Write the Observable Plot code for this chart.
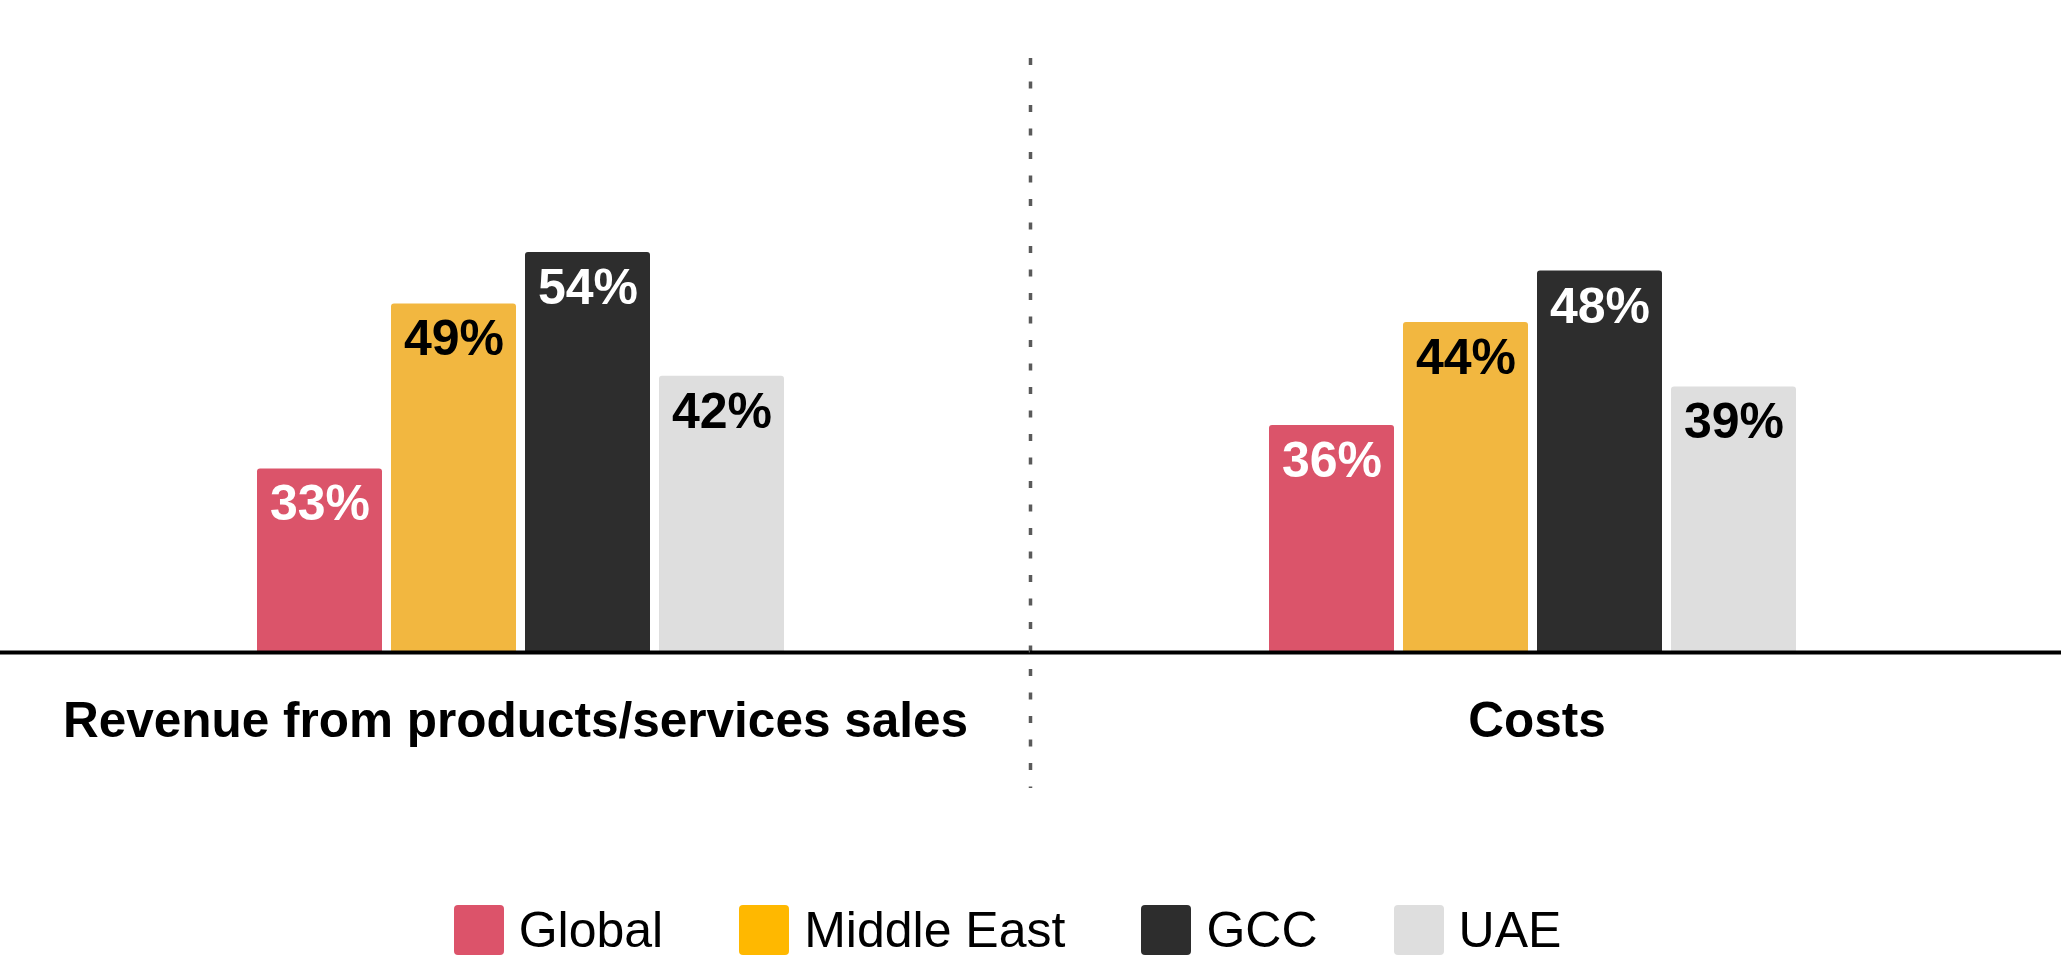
<!DOCTYPE html>
<html>
<head>
<meta charset="utf-8">
<script src="https://cdn.jsdelivr.net/npm/d3@7"></script>
<script src="https://cdn.jsdelivr.net/npm/@observablehq/plot@0.6"></script>
<style>
  html, body { margin: 0; padding: 0; background: #ffffff; }
  body { width: 2061px; height: 971px; overflow: hidden; font-family: "Liberation Sans", Arial, Helvetica, sans-serif; }
  #stage { position: relative; width: 2061px; height: 880px; }
  #left, #right, #divider { position: absolute; top: 0; }
  #left { left: 0; }
  #right { left: 1030px; }
  #divider { left: 1025px; }
  #legend { display: flex; justify-content: center; align-items: center; width: 2061px; box-sizing: border-box; padding-right: 46px; padding-top: 25px; }
  .item { display: flex; align-items: center; margin: 0 38px; }
  .sw { width: 50px; height: 50px; border-radius: 4px; margin-right: 15px; }
  .lab { font-size: 50px; line-height: 50px; color: #000; }
</style>
</head>
<body>
<div id="stage">
  <div id="left"></div>
  <div id="divider"></div>
  <div id="right"></div>
</div>
<div id="legend"></div>
<script>
const series = ["Global", "Middle East", "GCC", "UAE"];
const categories = ["Revenue from products/services sales", "Costs"];
const revenueValues = [33, 49, 54, 42];
const costsValues = [36, 44, 48, 39];
const barColors = ["#DB546A", "#F2B740", "#2D2D2D", "#DEDEDE"];
const legendColors = ["#DC536A", "#FFB800", "#2D2D2D", "#DEDEDE"];
const labelColors = ["#FFFFFF", "#000000", "#FFFFFF", "#000000"];

const H = 880;
const baseY = 651;

function panel(category, values, yDomain, yTop, xRange, labelDx, w) {
  const rows = series.map((s, i) => ({series: s, value: values[i], label: values[i] + "%", lc: labelColors[i]}));
  return Plot.plot({
    width: w,
    height: H,
    marginLeft: 0, marginRight: 0, marginTop: 0, marginBottom: H - baseY,
    style: {fontFamily: "Liberation Sans, Arial, sans-serif", background: "transparent", overflow: "visible"},
    x: {domain: series, range: xRange, paddingInner: 0.065, paddingOuter: 0, axis: null},
    y: {domain: yDomain, range: [baseY, yTop], axis: null},
    color: {domain: series, range: barColors},
    marks: [
      Plot.barY(rows, {x: "series", y: "value", fill: "series", rx: 3, clip: true}),
      Plot.text(rows, {x: "series", y: "value", text: "label", fill: "lc", lineAnchor: "top", dy: 16, fontSize: 50, fontWeight: "bold"}),
      Plot.ruleY([yDomain[0]], {stroke: "#000", strokeWidth: 4, dy: 1}),
      Plot.text([category], {text: d => d, frameAnchor: "bottom", lineAnchor: "middle", dy: 70, dx: labelDx, fontSize: 49.5, fontWeight: "bold", fill: "#000"})
    ]
  });
}

document.getElementById("left").appendChild(
  panel(categories[0], revenueValues, [15.3, 60], 190, [256, 786], 0, 1030)
);
document.getElementById("right").appendChild(
  panel(categories[1], costsValues, [18.45, 60], 116, [238, 767], -9, 1031)
);

// dotted divider between the two panels
document.getElementById("divider").appendChild(Plot.plot({
  width: 10, height: H, margin: 0,
  style: {background: "transparent"},
  x: {domain: [0, 1], range: [0, 10], axis: null},
  y: {domain: [0, H], range: [0, H], axis: null},
  marks: [Plot.ruleX([0.5], {y1: 58, y2: 788, stroke: "#5a5a5a", strokeWidth: 3.5, strokeDasharray: "7 16.5"})]
}));

// legend
const legend = document.getElementById("legend");
series.forEach((s, i) => {
  const it = document.createElement("div");
  it.className = "item";
  const sw = document.createElement("div");
  sw.className = "sw";
  sw.style.background = legendColors[i];
  const lb = document.createElement("span");
  lb.className = "lab";
  lb.textContent = s;
  it.appendChild(sw); it.appendChild(lb);
  legend.appendChild(it);
});
</script>
</body>
</html>
